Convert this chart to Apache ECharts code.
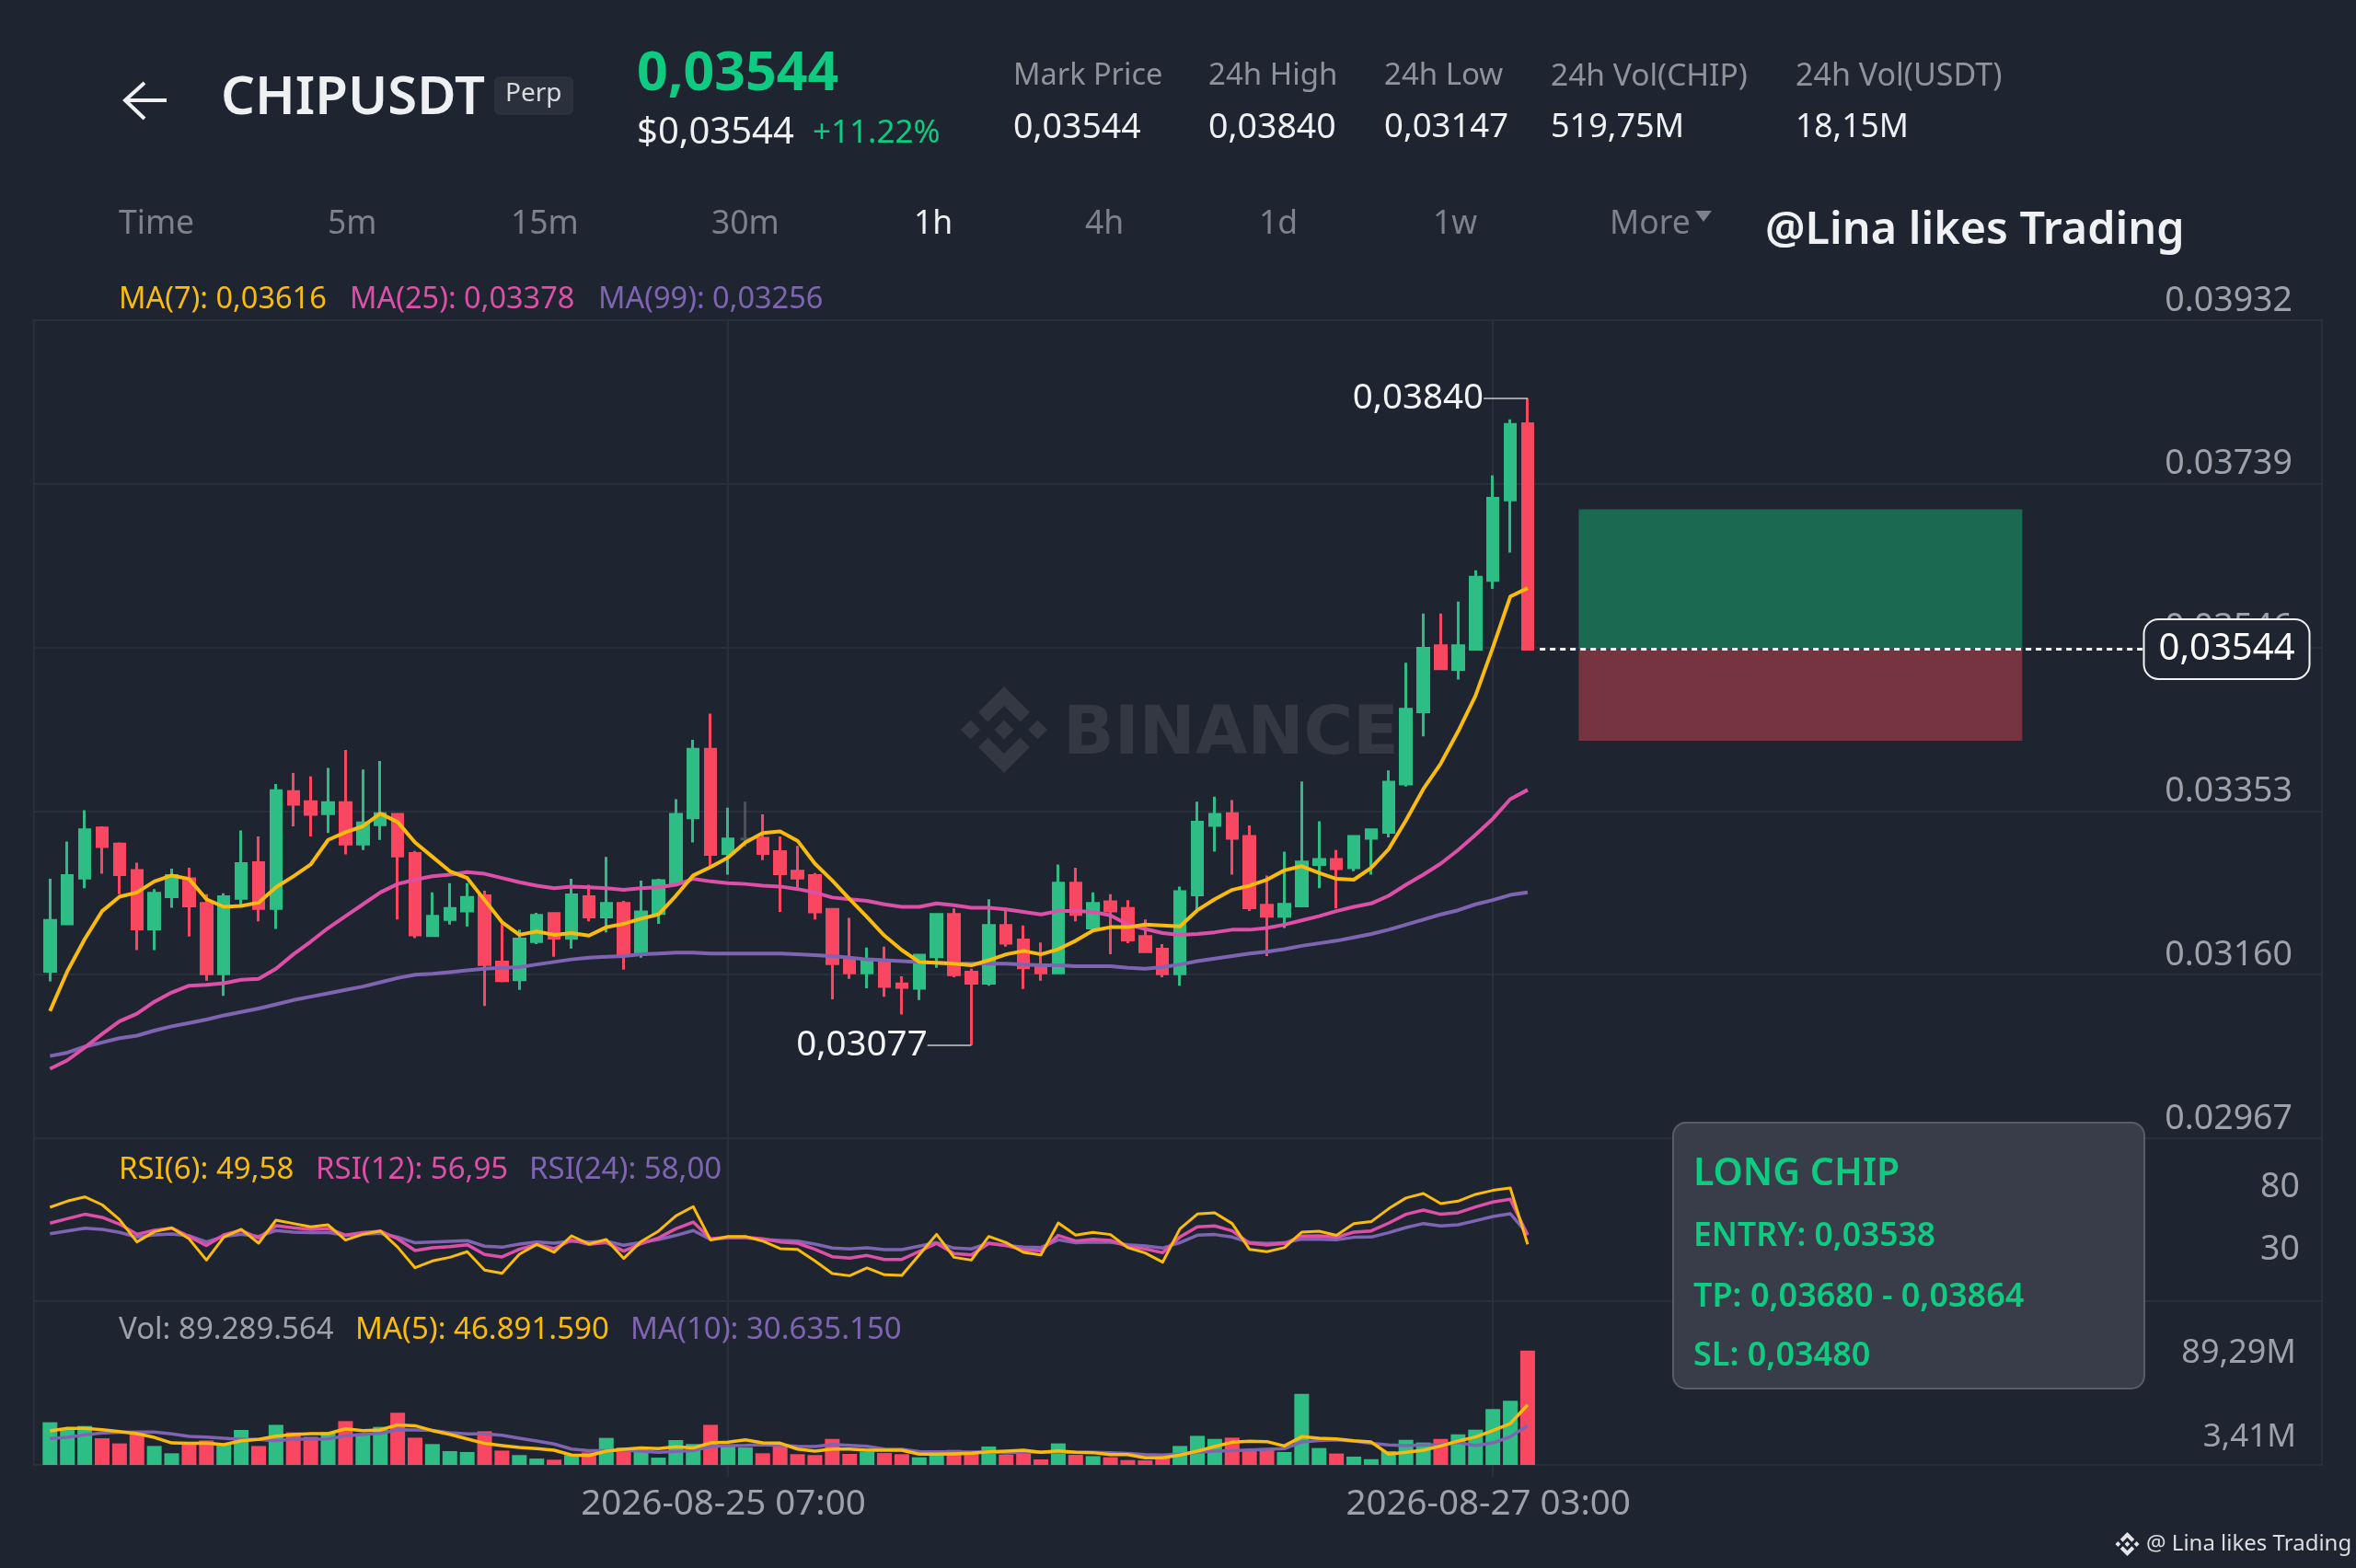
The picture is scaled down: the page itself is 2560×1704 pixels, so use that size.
<!DOCTYPE html>
<html><head><meta charset="utf-8">
<style>html,body{margin:0;padding:0;background:#1E2530}#c{width:2560px;height:1704px}</style>
<script src="https://cdn.jsdelivr.net/npm/echarts@6/dist/echarts.min.js"></script>
</head><body><div id="c"></div>
<script>
// Prices are given in units of 0.00001 USDT; one candle per hour, index 0 = 2026-08-24 16:00.
const opens=[3164,3220,3274,3333,3314,3283,3214,3252,3273,3244,3161,3250,3292,3238,3376,3364,3350,3363,3314,3337,3349,3303,3206,3225,3235,3253,3175,3154,3199,3232,3203,3252,3228,3244,3184,3232,3268,3345,3426,3303,3320,3321,3305,3282,3277,3237,3177,3162,3175,3149,3144,3181,3231,3163,3150,3218,3201,3171,3162,3268,3215,3246,3238,3205,3190,3161,3254,3336,3350,3323,3242,3229,3241,3290,3296,3286,3321,3328,3385,3470,3548,3520,3544,3625,3720,3810];
const closes=[3224,3277,3331,3311,3278,3214,3256,3277,3241,3161,3252,3291,3238,3377,3361,3349,3363,3314,3339,3350,3300,3207,3229,3238,3251,3172,3153,3202,3230,3203,3254,3228,3244,3184,3234,3271,3349,3426,3302,3320,3320,3303,3279,3274,3234,3173,3162,3177,3146,3145,3183,3231,3160,3150,3218,3197,3168,3162,3268,3231,3244,3235,3201,3187,3161,3258,3340,3349,3321,3239,3229,3243,3293,3296,3285,3323,3331,3387,3473,3545,3521,3548,3629,3722,3809,3544];
const lows=[3152,3220,3262,3279,3255,3189,3189,3239,3205,3153,3135,3240,3223,3214,3335,3323,3327,3302,3307,3319,3225,3203,3206,3219,3217,3123,3151,3142,3196,3181,3191,3223,3210,3166,3180,3220,3268,3316,3287,3278,3311,3295,3234,3262,3225,3131,3155,3144,3134,3113,3130,3168,3157,3077,3147,3193,3143,3153,3162,3223,3213,3184,3197,3187,3157,3147,3236,3305,3278,3235,3182,3215,3241,3262,3238,3282,3278,3322,3382,3441,3521,3508,3544,3615,3658,3544];
const highs=[3273,3317,3354,3335,3316,3292,3261,3285,3286,3255,3256,3330,3323,3385,3398,3394,3404,3425,3402,3412,3349,3306,3257,3268,3268,3259,3220,3213,3233,3232,3273,3266,3299,3247,3271,3273,3367,3437,3468,3357,3364,3349,3323,3312,3280,3237,3227,3192,3193,3158,3183,3231,3238,3167,3249,3235,3218,3198,3290,3286,3257,3255,3248,3225,3196,3264,3364,3370,3366,3336,3277,3305,3388,3341,3307,3324,3331,3401,3528,3586,3586,3600,3637,3749,3815,3840];
const ma7=[3117,3164,3202,3235,3252,3257,3270,3277,3273,3249,3240,3241,3245,3263,3276,3290,3319,3328,3335,3350,3340,3316,3299,3282,3274,3248,3222,3207,3211,3207,3209,3206,3216,3220,3226,3231,3253,3277,3287,3298,3316,3327,3329,3318,3291,3271,3249,3228,3206,3189,3175,3174,3173,3171,3177,3184,3188,3184,3190,3200,3212,3216,3216,3219,3218,3217,3236,3249,3260,3265,3272,3283,3288,3280,3273,3272,3286,3308,3342,3379,3409,3447,3489,3546,3606,3616];
const ma25=[3049,3059,3074,3090,3105,3114,3128,3139,3147,3148,3150,3154,3155,3167,3184,3199,3215,3229,3243,3257,3267,3272,3276,3278,3281,3279,3274,3269,3265,3262,3264,3263,3262,3260,3262,3263,3266,3273,3270,3268,3267,3265,3264,3261,3257,3251,3249,3247,3243,3240,3240,3244,3242,3239,3239,3237,3234,3231,3235,3235,3234,3230,3219,3214,3209,3207,3208,3210,3213,3213,3215,3219,3224,3229,3235,3240,3244,3253,3266,3278,3291,3307,3325,3344,3367,3378];
const ma99=[3064,3068,3075,3080,3085,3088,3094,3099,3103,3107,3112,3116,3120,3125,3130,3134,3138,3142,3146,3151,3156,3160,3161,3163,3165,3167,3168,3169,3172,3175,3178,3180,3181,3182,3184,3185,3186,3186,3185,3185,3185,3185,3185,3184,3183,3182,3180,3178,3177,3176,3175,3174,3173,3173,3173,3173,3172,3171,3171,3170,3170,3170,3168,3167,3169,3172,3176,3179,3182,3185,3187,3190,3194,3197,3200,3204,3208,3213,3219,3225,3231,3236,3243,3248,3254,3257];
const rsi6=[79.2,84.1,87.5,81.2,69.4,51.5,59.6,62.8,54.0,37.0,55.4,61.6,50.5,68.9,66.2,63.5,65.2,53.0,57.6,60.3,47.3,30.9,36.3,39.2,43.7,29.0,26.5,41.7,49.5,43.2,56.4,49.8,53.5,38.3,51.8,60.1,72.3,79.7,53.0,55.9,55.9,52.2,46.1,45.6,36.3,26.3,24.5,30.7,25.3,24.8,41.2,57.6,39.2,37.0,55.9,51.0,43.2,41.2,66.7,56.9,59.1,57.4,46.9,42.7,35.3,62.0,73.8,74.8,66.2,45.6,43.7,46.9,59.3,60.1,56.7,66.2,67.7,78.0,86.6,90.2,82.1,84.1,89.5,92.7,94.6,49.58];
const rsi12=[66.5,70.1,73.6,71.1,65.7,57.6,60.8,62.5,55.9,48.6,57.1,60.8,54.7,64.5,62.8,61.6,62.3,56.9,58.9,60.1,54.0,44.6,46.9,47.8,49.3,41.5,39.5,45.6,49.5,46.1,53.0,49.5,51.0,44.2,50.0,54.7,62.0,67.4,54.0,55.2,55.2,54.0,51.5,50.5,45.6,39.7,38.5,40.7,37.5,37.5,43.9,50.3,42.2,41.2,50.3,48.6,45.1,44.4,56.7,52.2,53.7,52.7,47.8,45.9,42.9,55.4,63.5,64.3,60.3,50.5,49.1,50.3,56.2,56.4,55.2,59.3,60.3,66.5,73.6,77.0,73.6,74.8,79.4,83.4,85.6,56.95];
const rsi24=[58.1,60.3,62.5,61.6,59.1,55.4,57.1,57.9,56.4,51.5,55.9,57.6,55.9,60.6,59.3,58.9,59.1,56.7,57.6,58.4,55.4,50.8,51.5,52.0,52.5,48.1,47.3,49.8,51.5,50.5,52.2,51.5,52.0,48.8,51.0,53.5,56.7,60.6,53.5,54.7,54.7,53.5,52.7,52.2,49.8,46.6,45.9,46.9,45.4,45.4,48.1,51.0,46.6,45.9,50.5,48.6,47.3,47.1,53.2,50.8,51.5,51.3,49.3,48.3,46.6,51.0,56.9,57.4,55.4,51.0,50.3,50.8,53.7,53.7,53.2,55.2,55.4,58.9,63.0,66.2,64.3,65.2,68.4,71.8,74.1,58.0];
// Volumes in millions
const vols=[33.3,28.2,30.4,20.8,16.8,24.6,14.8,9.1,17.9,19.1,16.8,27.3,14.8,31.3,25.4,22.0,25.6,34.2,24.6,29.7,40.7,21.3,16.3,10.8,10.1,26.3,11.2,7.7,5.0,4.1,7.7,9.8,21.1,13.6,12.0,5.7,19.4,16.3,31.3,14.8,13.6,9.1,16.3,8.4,7.7,20.3,8.6,10.3,9.3,8.4,6.0,8.4,11.7,8.9,14.4,7.9,9.1,4.3,16.8,7.9,6.9,6.0,3.8,3.6,5.5,14.8,22.7,20.3,21.3,10.8,12.0,10.1,55.5,13.2,8.9,6.5,4.5,10.8,19.6,17.5,20.3,23.9,27.5,43.6,50.0,89.29];
const volMa5=[26.6,28.5,28.5,27.5,26.1,24.4,21.5,17.2,16.8,17.0,15.8,18.9,19.9,22.5,23.7,24.4,24.4,28.2,26.8,27.3,31.3,30.6,26.8,23.9,20.3,16.8,15.1,13.6,12.7,11.5,7.7,7.4,10.8,12.2,13.2,12.7,14.1,13.2,17.2,17.7,19.6,17.2,17.0,12.4,10.8,12.4,12.4,11.5,11.5,11.5,8.4,8.4,8.6,9.1,10.3,10.8,11.5,9.8,11.0,9.8,9.6,8.1,8.1,5.5,5.5,7.7,10.8,14.4,17.7,18.4,18.2,14.8,22.0,20.8,20.3,18.9,17.9,8.4,9.8,11.5,14.8,18.7,21.8,26.8,32.3,46.89];
const volMa10=[20.6,21.5,23.5,24.9,25.4,25.6,25.6,24.2,22.3,21.8,20.8,19.9,19.9,18.9,20.1,20.1,20.3,22.7,23.9,24.6,27.5,27.3,27.0,25.1,24.2,24.2,23.2,20.8,18.7,16.3,12.4,11.2,11.2,11.5,10.8,9.8,10.5,11.2,14.4,15.1,15.3,15.8,15.3,14.6,14.4,16.0,15.3,14.6,12.4,12.2,10.5,10.3,10.3,10.1,10.3,9.3,10.1,10.1,9.8,9.8,9.8,9.6,8.9,8.1,7.7,8.4,9.8,10.8,11.2,11.7,12.2,12.7,17.9,19.1,19.6,18.7,16.8,15.6,15.1,15.6,15.8,17.5,15.1,17.2,22.0,30.635];
const priceTicks=[0.02967,0.03160,0.03353,0.03546,0.03739,0.03932];
const rsiTicks=[30,80];
const volTicks=[3.41,89.29];
const timeTicks=[39,83];
const timeLabels={39:'2026-08-25 07:00',83:'2026-08-27 03:00'};
const lastPrice=0.03544, highPrice=0.03840, lowPrice=0.03077, highIdx=85, lowIdx=53;
const zoneTop=0.03709, zoneBottom=0.03436, zoneX=[87.94,113.45];
const dojiIdx=[40];

const UP='#2EBD85',DOWN='#F94661',GREY='#4A505C',GOLD='#FABB0C',PINK='#DE4FA8',PURPLE='#8064B4',GRID='#2A303B',AXISTXT='#9EA1A9';
const FONT='"Noto Sans"';
const xMin=-0.932,xMax=130.69;
const p=v=>v/1e5;
const idx=a=>a.map((v,i)=>[i,v]);
const pr=a=>a.map((v,i)=>[i,p(v)]);

function T(text,x,y,size,fill,weight){
  return {type:'text',z:20,silent:true,style:{text,x,y:y+6,fill,font:(weight||400)+' '+size+'px '+FONT,align:'left',verticalAlign:'middle'}};
}
function logo(cx,cy,r,fill,z){
  const s=r/47;
  const P=pts=>({type:'polygon',z,silent:true,shape:{points:pts.map(q=>[cx+q[0]*s,cy+q[1]*s])},style:{fill}});
  const d=(x,y,h)=>[[x,y-h],[x+h,y],[x,y+h],[x-h,y]];
  return [P(d(0,0,10.5)),P(d(-36.5,0,10.5)),P(d(36.5,0,10.5)),
    P([[0,-47],[28,-19],[17.5,-8.5],[0,-26],[-17.5,-8.5],[-28,-19]]),
    P([[0,47],[28,19],[17.5,8.5],[0,26],[-17.5,8.5],[-28,19]])];
}
const LBL='#8F939C',VAL='#EEF0F2',TF='#7C818B',GREEN='#0ECB81';
const graphics=[
  ...logo(1091,793,47,'#333843',1),
  {type:'text',z:1,silent:true,style:{text:'BINANCE',x:1155,y:800,fill:'#333843',font:'700 73px "DejaVu Sans"',align:'left',verticalAlign:'middle'}},
  {type:'polyline',z:20,silent:true,shape:{points:[[136,109],[181,109]]},style:{stroke:'#EEF0F2',lineWidth:4,fill:null}},
  {type:'polyline',z:20,silent:true,shape:{points:[[157,90],[136,109],[157,129]]},style:{stroke:'#EEF0F2',lineWidth:4,fill:null}},
  T('CHIPUSDT',240,101,58,'#EEF0F2',600),
  {type:'rect',z:19,silent:true,shape:{x:537,y:83,width:86,height:42,r:6},style:{fill:'#2B313C'}},
  T('Perp',549,96,28,'#D8DADE'),
  T('0,03544',692,75,59,GREEN,700),
  T('$0,03544',692,139,40,VAL),
  T('+11.22%',883,139,35,GREEN),
  T('Mark Price',1101,77,32.5,LBL),T('0,03544',1101,133,37.5,VAL),
  T('24h High',1313,77,33,LBL),T('0,03840',1313,133,37.5,VAL),
  T('24h Low',1504,77,33,LBL),T('0,03147',1504,133,36.5,VAL),
  T('24h Vol(CHIP)',1685,77,33.5,LBL),T('519,75M',1685,133,36,VAL),
  T('24h Vol(USDT)',1951,77,34,LBL),T('18,15M',1951,133,35.5,VAL),
  T('Time',129,238,35.5,TF),T('5m',356,238,35.5,TF),T('15m',555,238,35.5,TF),T('30m',773,238,35.5,TF),
  T('1h',993,238,35.5,'#EEF0F2'),T('4h',1179,238,35.5,TF),T('1d',1368,238,35.5,TF),T('1w',1557,238,35.5,TF),T('More',1749,238,35.5,TF),
  {type:'polygon',z:20,silent:true,shape:{points:[[1842,229],[1860,229],[1851,241]]},style:{fill:TF}},
  T('@Lina likes Trading',1918,245,48.5,'#F0F1F3',600),
  T('MA(7): 0,03616',129,320,32.5,GOLD),T('MA(25): 0,03378',380,320,32.5,PINK),T('MA(99): 0,03256',650,320,32.5,PURPLE),
  T('RSI(6): 49,58',129,1266,33,GOLD),T('RSI(12): 56,95',343,1266,33,PINK),T('RSI(24): 58,00',575,1266,33,PURPLE),
  T('Vol: 89.289.564',129,1440,33,AXISTXT),T('MA(5): 46.891.590',386,1440,33,GOLD),T('MA(10): 30.635.150',685,1440,33,PURPLE),
  {type:'rect',z:19,silent:true,shape:{x:1818,y:1220,width:512,height:289,r:14},style:{fill:'#383D49',stroke:'#585D69',lineWidth:2}},
  T('LONG CHIP',1840,1270,41,GREEN,600),
  T('ENTRY: 0,03538',1840,1338,35.5,GREEN,600),
  T('TP: 0,03680 - 0,03864',1840,1404,36,GREEN,600),
  T('SL: 0,03480',1840,1468,36,GREEN,600),
  ...logo(2311.5,1678,13,'#E4E5E8',20),
  T('@ Lina likes Trading',2332,1672,24,'#DCDDE0')
];

const grids=[{top:348,height:889},{top:1237,height:177},{top:1414,height:178}].map(g=>({left:36.7,width:2486.3,top:g.top,height:g.height,show:true,borderColor:GRID,borderWidth:2,backgroundColor:'transparent',containLabel:false}));
const xAxis=[0,1,2].map(i=>({gridIndex:i,type:'value',min:xMin,max:xMax,axisLine:{show:false},
  axisTick:{show:i===2,length:13,lineStyle:{color:GRID,width:2},customValues:timeTicks},
  splitLine:{show:true,lineStyle:{color:GRID,width:2}},
  axisLabel:{show:i===2,customValues:timeTicks,formatter:v=>timeLabels[v]||'',color:AXISTXT,fontFamily:FONT,fontSize:38.5,margin:24,padding:[0,10,0,0]}}));
const ySide={position:'right',axisLine:{show:false},axisTick:{show:false}};
const yAxis=[
 Object.assign({},ySide,{gridIndex:0,type:'value',min:0.02967,max:0.03932,
  axisTick:{show:false,customValues:priceTicks},splitLine:{show:true,lineStyle:{color:GRID,width:2}},
  axisLabel:{inside:true,customValues:priceTicks,formatter:v=>v.toFixed(5),color:AXISTXT,fontFamily:FONT,fontSize:37.5,margin:32,verticalAlign:'bottom',padding:[0,0,2,0]}}),
 Object.assign({},ySide,{gridIndex:1,type:'value',min:4.2,max:134.3,
  axisTick:{show:false,customValues:rsiTicks},splitLine:{show:false},
  axisLabel:{inside:true,customValues:rsiTicks,formatter:v=>String(v),color:AXISTXT,fontFamily:FONT,fontSize:37.5,margin:24,verticalAlign:'bottom',padding:[0,0,2,0]}}),
 Object.assign({},ySide,{gridIndex:2,type:'value',min:0,max:127.8,
  axisTick:{show:false,customValues:volTicks},splitLine:{show:false},
  axisLabel:{inside:true,customValues:volTicks,formatter:v=>v===3.41?'{low|3,41M}':'{hi|89,29M}',color:AXISTXT,fontFamily:FONT,fontSize:36,margin:28,
    rich:{low:{color:AXISTXT,fontFamily:FONT,fontSize:35,padding:[0,0,50,0]},hi:{color:AXISTXT,fontFamily:FONT,fontSize:36,padding:[6,0,0,0]}}}})
];
const line=(name,data,color,g,w)=>({name,type:'line',xAxisIndex:g,yAxisIndex:g,data,showSymbol:false,symbol:'none',smooth:false,lineStyle:{color,width:w,join:'round'},z:5,silent:true,animation:false});
const candleData=opens.map((o,i)=>{
  const item={value:[i,p(o),p(closes[i]),p(lows[i]),p(highs[i])]};
  if(dojiIdx.includes(i)) item.itemStyle={color:GREY,color0:GREY,borderColor:GREY,borderColor0:GREY};
  return item;
});
const opt={
 backgroundColor:'#1E2530',animation:false,
 textStyle:{fontFamily:FONT},
 grid:grids,xAxis,yAxis,graphic:{elements:graphics},
 series:[
  {name:'Zone',type:'line',xAxisIndex:0,yAxisIndex:0,data:[],z:3,silent:true,
   markArea:{silent:true,data:[
     [{coord:[zoneX[0],zoneTop],itemStyle:{color:'#1A6950'}},{coord:[zoneX[1],lastPrice]}],
     [{coord:[zoneX[0],lastPrice],itemStyle:{color:'#763441'}},{coord:[zoneX[1],zoneBottom]}]
   ]},
   markLine:{silent:true,symbol:'none',precision:6,lineStyle:{color:'#F2F3F4',width:3,type:[6,5]},
     label:{show:true,position:'end',distance:0,formatter:'0,03544',color:'#FFFFFF',fontFamily:FONT,fontSize:40,backgroundColor:'#1E2530',borderColor:'#F2F3F4',borderWidth:2,borderRadius:15,padding:[13,15,10,15]},
     data:[[{coord:[85.7,lastPrice]},{coord:[120.5,lastPrice]}]]}
  },
  {name:'Price',type:'candlestick',xAxisIndex:0,yAxisIndex:0,data:candleData,barWidth:12,z:4,silent:true,
   itemStyle:{color:UP,color0:DOWN,borderColor:UP,borderColor0:DOWN,borderWidth:3},
   markLine:{silent:true,symbol:'none',precision:6,animation:false,lineStyle:{color:'#C9CBCF',width:1.5,type:'solid'},
     label:{show:true,position:'end',distance:0,color:'#F2F3F4',fontFamily:FONT,fontSize:38.5},
     data:[
       [{coord:[highIdx,highPrice]},{coord:[highIdx-2.53,highPrice],label:{formatter:'0,03840'}}],
       [{coord:[lowIdx,lowPrice]},{coord:[lowIdx-2.53,lowPrice],label:{formatter:'0,03077'}}]
     ]}
  },
  line('MA(99)',pr(ma99),PURPLE,0,4),line('MA(25)',pr(ma25),PINK,0,4),line('MA(7)',pr(ma7),GOLD,0,4),
  line('RSI(24)',idx(rsi24),PURPLE,1,3.5),line('RSI(12)',idx(rsi12),PINK,1,3.5),line('RSI(6)',idx(rsi6),GOLD,1,3),
  {name:'Vol',type:'bar',xAxisIndex:2,yAxisIndex:2,data:idx(vols),barWidth:16,silent:true,z:3,
   itemStyle:{color:q=>closes[q.dataIndex]>=opens[q.dataIndex]?UP:DOWN}},
  line('Vol MA(10)',idx(volMa10),PURPLE,2,3.5),line('Vol MA(5)',idx(volMa5),GOLD,2,3.5)
 ]
};
const chart=echarts.init(document.getElementById('c'),null,{width:2560,height:1704});
chart.setOption(opt);
</script></body></html>
